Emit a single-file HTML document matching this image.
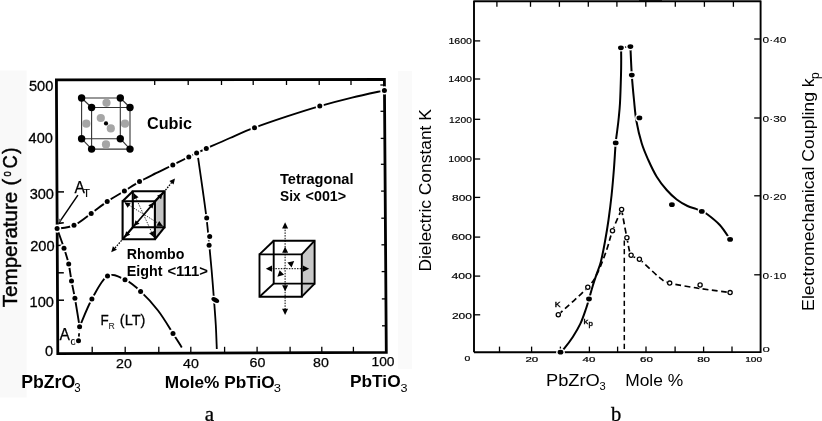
<!DOCTYPE html>
<html><head><meta charset="utf-8"><title>PZT phase diagram</title>
<style>html,body{margin:0;padding:0;background:#fff;width:822px;height:421px;overflow:hidden}svg{display:block}</style>
</head><body>
<svg width="822" height="421" viewBox="0 0 822 421">
<rect width="822" height="421" fill="#fff"/>
<rect x="0" y="70.5" width="26.6" height="327" fill="#f9f9f9"/>
<rect x="398" y="71" width="14" height="298" fill="#fafafa"/>
<polygon points="56.4,79.8 384.4,79.4 386.3,352.4 57.8,353.6" fill="none" stroke="#000" stroke-width="2.8" stroke-linejoin="miter"/>
<line x1="154.7" y1="80.5" x2="154.7" y2="85" stroke="#000" stroke-width="1.3" stroke-linecap="butt"/>
<line x1="188.2" y1="80.5" x2="188.2" y2="85" stroke="#000" stroke-width="1.3" stroke-linecap="butt"/>
<line x1="221.5" y1="80.5" x2="221.5" y2="85" stroke="#000" stroke-width="1.3" stroke-linecap="butt"/>
<line x1="253.2" y1="80.5" x2="253.2" y2="85" stroke="#000" stroke-width="1.3" stroke-linecap="butt"/>
<line x1="286.5" y1="80.5" x2="286.5" y2="85" stroke="#000" stroke-width="1.3" stroke-linecap="butt"/>
<line x1="319.2" y1="80.5" x2="319.2" y2="85" stroke="#000" stroke-width="1.3" stroke-linecap="butt"/>
<line x1="351" y1="80.5" x2="351" y2="85" stroke="#000" stroke-width="1.3" stroke-linecap="butt"/>
<line x1="92.2" y1="352.5" x2="92.2" y2="346.8" stroke="#000" stroke-width="1.3" stroke-linecap="butt"/>
<line x1="125.2" y1="352.5" x2="125.2" y2="346.8" stroke="#000" stroke-width="1.3" stroke-linecap="butt"/>
<line x1="158.8" y1="352.5" x2="158.8" y2="346.8" stroke="#000" stroke-width="1.3" stroke-linecap="butt"/>
<line x1="190.8" y1="352.5" x2="190.8" y2="346.8" stroke="#000" stroke-width="1.3" stroke-linecap="butt"/>
<line x1="224.6" y1="352.5" x2="224.6" y2="346.8" stroke="#000" stroke-width="1.3" stroke-linecap="butt"/>
<line x1="257.1" y1="352.5" x2="257.1" y2="346.8" stroke="#000" stroke-width="1.3" stroke-linecap="butt"/>
<line x1="290.1" y1="352.5" x2="290.1" y2="346.8" stroke="#000" stroke-width="1.3" stroke-linecap="butt"/>
<line x1="321.8" y1="352.5" x2="321.8" y2="346.8" stroke="#000" stroke-width="1.3" stroke-linecap="butt"/>
<line x1="353.4" y1="352.5" x2="353.4" y2="346.8" stroke="#000" stroke-width="1.3" stroke-linecap="butt"/>
<line x1="57.5" y1="300.2" x2="64" y2="300.2" stroke="#000" stroke-width="1.5" stroke-linecap="butt"/>
<line x1="57.5" y1="272.8" x2="63.8" y2="272.8" stroke="#000" stroke-width="1.5" stroke-linecap="butt"/>
<line x1="57.5" y1="245.4" x2="62.5" y2="245.4" stroke="#000" stroke-width="1.5" stroke-linecap="butt"/>
<line x1="57.5" y1="191.9" x2="64" y2="191.9" stroke="#000" stroke-width="1.5" stroke-linecap="butt"/>
<line x1="385.03" y1="85" x2="380.33" y2="85" stroke="#000" stroke-width="1.3" stroke-linecap="butt"/>
<line x1="385.22" y1="111.3" x2="380.52" y2="111.3" stroke="#000" stroke-width="1.3" stroke-linecap="butt"/>
<line x1="385.41" y1="138.4" x2="380.71" y2="138.4" stroke="#000" stroke-width="1.3" stroke-linecap="butt"/>
<line x1="385.59" y1="164.3" x2="380.89" y2="164.3" stroke="#000" stroke-width="1.3" stroke-linecap="butt"/>
<line x1="385.78" y1="191.1" x2="381.08" y2="191.1" stroke="#000" stroke-width="1.3" stroke-linecap="butt"/>
<line x1="385.97" y1="218.2" x2="381.27" y2="218.2" stroke="#000" stroke-width="1.3" stroke-linecap="butt"/>
<line x1="386.15" y1="244.8" x2="381.45" y2="244.8" stroke="#000" stroke-width="1.3" stroke-linecap="butt"/>
<line x1="386.34" y1="271.6" x2="381.64" y2="271.6" stroke="#000" stroke-width="1.3" stroke-linecap="butt"/>
<line x1="386.53" y1="298.9" x2="381.83" y2="298.9" stroke="#000" stroke-width="1.3" stroke-linecap="butt"/>
<line x1="386.72" y1="325.8" x2="382.02" y2="325.8" stroke="#000" stroke-width="1.3" stroke-linecap="butt"/>
<text x="53.3" y="90.9" font-family="Liberation Sans, sans-serif" font-size="14.6" font-weight="normal" text-anchor="end" fill="#000" stroke="#000" stroke-width="0.3" >500</text>
<text x="52.9" y="142.8" font-family="Liberation Sans, sans-serif" font-size="14.6" font-weight="normal" text-anchor="end" fill="#000" stroke="#000" stroke-width="0.3" >400</text>
<text x="54" y="199" font-family="Liberation Sans, sans-serif" font-size="14.6" font-weight="normal" text-anchor="end" fill="#000" stroke="#000" stroke-width="0.3" >300</text>
<text x="54.6" y="251.2" font-family="Liberation Sans, sans-serif" font-size="14.6" font-weight="normal" text-anchor="end" fill="#000" stroke="#000" stroke-width="0.3" >200</text>
<text x="53.9" y="307.1" font-family="Liberation Sans, sans-serif" font-size="14.6" font-weight="normal" text-anchor="end" fill="#000" stroke="#000" stroke-width="0.3" >100</text>
<text x="53" y="356.4" font-family="Liberation Sans, sans-serif" font-size="14.6" font-weight="normal" text-anchor="end" fill="#000" stroke="#000" stroke-width="0.3" >0</text>
<text x="116.1" y="368.3" font-family="Liberation Sans, sans-serif" font-size="13" font-weight="normal" text-anchor="start" fill="#000" textLength="15.8" lengthAdjust="spacingAndGlyphs" stroke="#000" stroke-width="0.25" >20</text>
<text x="183.1" y="367.9" font-family="Liberation Sans, sans-serif" font-size="13" font-weight="normal" text-anchor="start" fill="#000" textLength="15.8" lengthAdjust="spacingAndGlyphs" stroke="#000" stroke-width="0.25" >40</text>
<text x="249.5" y="367.1" font-family="Liberation Sans, sans-serif" font-size="13" font-weight="normal" text-anchor="start" fill="#000" textLength="15.8" lengthAdjust="spacingAndGlyphs" stroke="#000" stroke-width="0.25" >60</text>
<text x="313.1" y="366.9" font-family="Liberation Sans, sans-serif" font-size="13" font-weight="normal" text-anchor="start" fill="#000" textLength="15.8" lengthAdjust="spacingAndGlyphs" stroke="#000" stroke-width="0.25" >80</text>
<text x="371.5" y="366.3" font-family="Liberation Sans, sans-serif" font-size="13" font-weight="normal" text-anchor="start" fill="#000" textLength="23" lengthAdjust="spacingAndGlyphs" stroke="#000" stroke-width="0.25" >100</text>
<g transform="translate(17.4,307.2) rotate(-90)" font-family="Liberation Sans, sans-serif" font-size="21" stroke="#000" stroke-width="0.45"><text x="0" y="0" textLength="115.5" lengthAdjust="spacingAndGlyphs">Temperature</text><text x="121.6" y="0" textLength="6.6" lengthAdjust="spacingAndGlyphs">(</text><text x="130.6" y="-6.1" font-size="13.5" textLength="5.2" lengthAdjust="spacingAndGlyphs">o</text><text x="138.6" y="0" textLength="13.2" lengthAdjust="spacingAndGlyphs">C</text><text x="153.1" y="0" textLength="6.6" lengthAdjust="spacingAndGlyphs">)</text></g>
<text x="21.2" y="388" font-family="Liberation Sans, sans-serif" font-size="17.6" font-weight="bold" text-anchor="start" fill="#000" textLength="54" lengthAdjust="spacingAndGlyphs" >PbZrO</text>
<text x="74.2" y="391.9" font-family="Liberation Sans, sans-serif" font-size="12" font-weight="normal" text-anchor="start" fill="#000" textLength="6.4" lengthAdjust="spacingAndGlyphs" >3</text>
<text x="164.8" y="387.6" font-family="Liberation Sans, sans-serif" font-size="16.2" font-weight="bold" text-anchor="start" fill="#000" textLength="109.8" lengthAdjust="spacingAndGlyphs" >Mole% PbTiO</text>
<text x="273.8" y="391.8" font-family="Liberation Sans, sans-serif" font-size="11.5" font-weight="normal" text-anchor="start" fill="#000" textLength="7.2" lengthAdjust="spacingAndGlyphs" >3</text>
<text x="350" y="387.1" font-family="Liberation Sans, sans-serif" font-size="16.2" font-weight="bold" text-anchor="start" fill="#000" textLength="50.6" lengthAdjust="spacingAndGlyphs" >PbTiO</text>
<text x="400.5" y="391.9" font-family="Liberation Sans, sans-serif" font-size="11.5" font-weight="normal" text-anchor="start" fill="#000" textLength="7" lengthAdjust="spacingAndGlyphs" >3</text>
<text x="209.5" y="420.6" font-family="Liberation Serif, sans-serif" font-size="21" font-weight="normal" text-anchor="middle" fill="#000" stroke="#000" stroke-width="0.3" >a</text>
<text x="147" y="129.2" font-family="Liberation Sans, sans-serif" font-size="16" font-weight="bold" text-anchor="start" fill="#000" textLength="45" lengthAdjust="spacingAndGlyphs" >Cubic</text>
<text x="280" y="183.5" font-family="Liberation Sans, sans-serif" font-size="14.4" font-weight="bold" text-anchor="start" fill="#000" textLength="73.5" lengthAdjust="spacingAndGlyphs" >Tetragonal</text>
<text x="280" y="200.8" font-family="Liberation Sans, sans-serif" font-size="14.4" font-weight="bold" text-anchor="start" fill="#000" textLength="20.6" lengthAdjust="spacingAndGlyphs" >Six</text>
<text x="305.6" y="200.8" font-family="Liberation Sans, sans-serif" font-size="14.4" font-weight="bold" text-anchor="start" fill="#000" textLength="40.6" lengthAdjust="spacingAndGlyphs" >&lt;001&gt;</text>
<text x="126.8" y="259.2" font-family="Liberation Sans, sans-serif" font-size="14.2" font-weight="bold" text-anchor="start" fill="#000" textLength="57.6" lengthAdjust="spacingAndGlyphs" >Rhombo</text>
<text x="126.8" y="276" font-family="Liberation Sans, sans-serif" font-size="14.2" font-weight="bold" text-anchor="start" fill="#000" textLength="35.8" lengthAdjust="spacingAndGlyphs" >Eight</text>
<text x="167.4" y="276" font-family="Liberation Sans, sans-serif" font-size="14.2" font-weight="bold" text-anchor="start" fill="#000" textLength="40.6" lengthAdjust="spacingAndGlyphs" >&lt;111&gt;</text>
<text x="74.4" y="192.5" font-family="Liberation Sans, sans-serif" font-size="15.6" font-weight="normal" text-anchor="start" fill="#000" stroke="#000" stroke-width="0.25" >A</text>
<text x="83.2" y="196.7" font-family="Liberation Sans, sans-serif" font-size="10.8" font-weight="normal" text-anchor="start" fill="#000" stroke="#000" stroke-width="0.2" >T</text>
<text x="59.4" y="340.2" font-family="Liberation Sans, sans-serif" font-size="15.6" font-weight="normal" text-anchor="start" fill="#000" stroke="#000" stroke-width="0.25" >A</text>
<text x="70.4" y="344.7" font-family="Liberation Sans, sans-serif" font-size="10.4" font-weight="normal" text-anchor="start" fill="#000" stroke="#000" stroke-width="0.2" >o</text>
<text x="100.4" y="325.2" font-family="Liberation Sans, sans-serif" font-size="15.4" font-weight="normal" text-anchor="start" fill="#000" textLength="8.2" lengthAdjust="spacingAndGlyphs" stroke="#000" stroke-width="0.3" >F</text>
<text x="108.6" y="329" font-family="Liberation Sans, sans-serif" font-size="8.6" font-weight="normal" text-anchor="start" fill="#333" stroke="#333" stroke-width="0.15" >R</text>
<text x="119.8" y="325.2" font-family="Liberation Sans, sans-serif" font-size="15.4" font-weight="normal" text-anchor="start" fill="#000" textLength="25.6" lengthAdjust="spacingAndGlyphs" stroke="#000" stroke-width="0.3" >(LT)</text>
<line x1="77.9" y1="195.2" x2="58.6" y2="223.4" stroke="#000" stroke-width="1.5" stroke-linecap="butt"/>
<polygon points="58.2,224 57.8,218.2 61.4,219.6" fill="#6a6a6a"/>
<line x1="58.3" y1="223.4" x2="63.8" y2="222.8" stroke="#000" stroke-width="1.6" stroke-linecap="butt"/>
<path d="M57.1,228.6 C59.92,228.05 68.32,227.83 74,225.3 C79.68,222.77 85.67,217.35 91.2,213.4 C96.73,209.45 101.67,205.33 107.2,201.6 C112.73,197.87 119.02,194.33 124.4,191 C129.78,187.67 134.23,184.57 139.5,181.6 C144.77,178.63 150.45,175.97 156,173.2 C161.55,170.43 167.33,167.7 172.8,165 C178.27,162.3 184.83,159 188.8,157 C192.77,155 193.68,154.42 196.6,153 C199.52,151.58 204.68,149.25 206.3,148.5" fill="none" stroke="#000" stroke-width="1.9" stroke-linecap="butt" stroke-linejoin="round" />
<path d="M206.3,148.5 C210.25,146.75 221.97,141.47 230,138 C238.03,134.53 245,131.3 254.5,127.7 C264,124.1 276.12,120 287,116.4 C297.88,112.8 308.97,109.23 319.8,106.1 C330.63,102.97 341.23,100.22 352,97.6 C362.77,94.98 379,91.6 384.4,90.4" fill="none" stroke="#000" stroke-width="1.9" stroke-linecap="butt" stroke-linejoin="round" />
<path d="M57.1,228.6 C58.25,231.87 62.07,242.3 64,248.2 C65.93,254.1 67.45,258.53 68.7,264 C69.95,269.47 70.47,275.3 71.5,281 C72.53,286.7 73.55,290.57 74.9,298.2 C76.25,305.83 78.82,322.03 79.6,326.8" fill="none" stroke="#000" stroke-width="1.9" stroke-linecap="butt" stroke-linejoin="round" />
<path d="M79.6,326.8 L78.5,341.5" fill="none" stroke="#000" stroke-width="1.8" stroke-dasharray="4 2.5" stroke-linecap="butt" stroke-linejoin="round" />
<path d="M79.6,326.8 C81.65,322.17 87.25,307.47 91.9,299 C96.55,290.53 101.98,279.22 107.5,276 C113.02,272.78 119.48,277.13 125,279.7 C130.52,282.27 135.1,286.27 140.6,291.4 C146.1,296.53 152.6,303.5 158,310.5 C163.4,317.5 169.03,327.23 173,333.4 C176.97,339.57 180.33,345.15 181.8,347.5" fill="none" stroke="#000" stroke-width="1.9" stroke-linecap="butt" stroke-linejoin="round" />
<path d="M198.1,157.9 C198.92,163.58 201.6,181.98 203,192 C204.4,202.02 205.5,209.67 206.5,218 C207.5,226.33 208.15,233.33 209,242 C209.85,250.67 210.77,260.33 211.6,270 C212.43,279.67 213.3,290.83 214,300 C214.7,309.17 215.33,316.83 215.8,325 C216.27,333.17 216.63,345 216.8,349" fill="none" stroke="#000" stroke-width="1.8" stroke-linecap="butt" stroke-linejoin="round" />
<ellipse cx="57.1" cy="228.6" rx="4.1" ry="4.1" fill="#fff"/>
<ellipse cx="57.1" cy="228.6" rx="2.5" ry="2.5" fill="#000"/>
<ellipse cx="74" cy="225.3" rx="4.1" ry="4.1" fill="#fff"/>
<ellipse cx="74" cy="225.3" rx="2.5" ry="2.5" fill="#000"/>
<ellipse cx="91.2" cy="213.4" rx="4.1" ry="4.1" fill="#fff"/>
<ellipse cx="91.2" cy="213.4" rx="2.5" ry="2.5" fill="#000"/>
<ellipse cx="107.2" cy="201.6" rx="4.1" ry="4.1" fill="#fff"/>
<ellipse cx="107.2" cy="201.6" rx="2.5" ry="2.5" fill="#000"/>
<ellipse cx="124.4" cy="191" rx="4.1" ry="4.1" fill="#fff"/>
<ellipse cx="124.4" cy="191" rx="2.5" ry="2.5" fill="#000"/>
<ellipse cx="139.5" cy="181.6" rx="4.1" ry="4.1" fill="#fff"/>
<ellipse cx="139.5" cy="181.6" rx="2.5" ry="2.5" fill="#000"/>
<ellipse cx="172.8" cy="165" rx="4.1" ry="4.1" fill="#fff"/>
<ellipse cx="172.8" cy="165" rx="2.5" ry="2.5" fill="#000"/>
<ellipse cx="188.8" cy="157" rx="4.1" ry="4.1" fill="#fff"/>
<ellipse cx="188.8" cy="157" rx="2.5" ry="2.5" fill="#000"/>
<ellipse cx="196.6" cy="153" rx="4.1" ry="4.1" fill="#fff"/>
<ellipse cx="196.6" cy="153" rx="2.5" ry="2.5" fill="#000"/>
<ellipse cx="206.3" cy="148.5" rx="4.1" ry="4.1" fill="#fff"/>
<ellipse cx="206.3" cy="148.5" rx="2.5" ry="2.5" fill="#000"/>
<ellipse cx="254.5" cy="127.7" rx="4.1" ry="4.1" fill="#fff"/>
<ellipse cx="254.5" cy="127.7" rx="2.5" ry="2.5" fill="#000"/>
<ellipse cx="319.8" cy="106.1" rx="4.1" ry="4.1" fill="#fff"/>
<ellipse cx="319.8" cy="106.1" rx="2.5" ry="2.5" fill="#000"/>
<ellipse cx="384.4" cy="90.4" rx="4.1" ry="4.1" fill="#fff"/>
<ellipse cx="384.4" cy="90.4" rx="2.5" ry="2.5" fill="#000"/>
<ellipse cx="64" cy="248.2" rx="4.1" ry="4.1" fill="#fff"/>
<ellipse cx="64" cy="248.2" rx="2.5" ry="2.5" fill="#000"/>
<ellipse cx="68.7" cy="264" rx="4.1" ry="4.1" fill="#fff"/>
<ellipse cx="68.7" cy="264" rx="2.5" ry="2.5" fill="#000"/>
<ellipse cx="71.5" cy="281" rx="4.1" ry="4.1" fill="#fff"/>
<ellipse cx="71.5" cy="281" rx="2.5" ry="2.5" fill="#000"/>
<ellipse cx="74.9" cy="298.2" rx="4.1" ry="4.1" fill="#fff"/>
<ellipse cx="74.9" cy="298.2" rx="2.5" ry="2.5" fill="#000"/>
<ellipse cx="79.6" cy="326.8" rx="4.1" ry="4.1" fill="#fff"/>
<ellipse cx="79.6" cy="326.8" rx="2.5" ry="2.5" fill="#000"/>
<ellipse cx="78.5" cy="340.7" rx="4.1" ry="4.1" fill="#fff"/>
<ellipse cx="78.5" cy="340.7" rx="2.5" ry="2.5" fill="#000"/>
<ellipse cx="91.9" cy="299" rx="4.1" ry="4.1" fill="#fff"/>
<ellipse cx="91.9" cy="299" rx="2.5" ry="2.5" fill="#000"/>
<ellipse cx="107.5" cy="276" rx="4.1" ry="4.1" fill="#fff"/>
<ellipse cx="107.5" cy="276" rx="2.5" ry="2.5" fill="#000"/>
<ellipse cx="125" cy="279.7" rx="4.1" ry="4.1" fill="#fff"/>
<ellipse cx="125" cy="279.7" rx="2.5" ry="2.5" fill="#000"/>
<ellipse cx="140.6" cy="291.4" rx="4.1" ry="4.1" fill="#fff"/>
<ellipse cx="140.6" cy="291.4" rx="2.5" ry="2.5" fill="#000"/>
<ellipse cx="173" cy="333.4" rx="4.1" ry="4.1" fill="#fff"/>
<ellipse cx="173" cy="333.4" rx="2.5" ry="2.5" fill="#000"/>
<ellipse cx="206.7" cy="218.1" rx="4.1" ry="4.1" fill="#fff"/>
<ellipse cx="206.7" cy="218.1" rx="2.5" ry="2.5" fill="#000"/>
<ellipse cx="209.7" cy="236.4" rx="4.1" ry="4.1" fill="#fff"/>
<ellipse cx="209.7" cy="236.4" rx="2.5" ry="2.5" fill="#000"/>
<ellipse cx="209.1" cy="245.3" rx="4.1" ry="4.1" fill="#fff"/>
<ellipse cx="209.1" cy="245.3" rx="2.5" ry="2.5" fill="#000"/>
<ellipse cx="215.3" cy="300.0" rx="5.6" ry="3.8" transform="rotate(28 215.3 300)" fill="#fff"/>
<ellipse cx="215.3" cy="300.0" rx="4.2" ry="2.4" transform="rotate(28 215.3 300)" fill="#000"/>
<polygon points="81.6,98 120.3,98 120.3,138.7 81.6,138.7" fill="none" stroke="#333" stroke-width="1.1"/>
<polygon points="91.6,107.5 130,107.5 130,149.1 91.6,149.1" fill="none" stroke="#333" stroke-width="1.1"/>
<line x1="81.6" y1="98" x2="91.6" y2="107.5" stroke="#333" stroke-width="1.1" stroke-linecap="butt"/>
<line x1="120.3" y1="98" x2="130" y2="107.5" stroke="#333" stroke-width="1.1" stroke-linecap="butt"/>
<line x1="81.6" y1="138.7" x2="91.6" y2="149.1" stroke="#333" stroke-width="1.1" stroke-linecap="butt"/>
<line x1="120.3" y1="138.7" x2="130" y2="149.1" stroke="#333" stroke-width="1.1" stroke-linecap="butt"/>
<circle cx="106.5" cy="102.8" r="4.1" fill="#a6a6a6"/>
<circle cx="86.3" cy="123.7" r="4.1" fill="#a6a6a6"/>
<circle cx="125" cy="123.7" r="4.1" fill="#a6a6a6"/>
<circle cx="106" cy="144.4" r="4.1" fill="#a6a6a6"/>
<circle cx="100.8" cy="118" r="4.1" fill="#a6a6a6"/>
<circle cx="110.8" cy="128.4" r="4.1" fill="#a6a6a6"/>
<circle cx="106" cy="123.4" r="2.1" fill="#000"/>
<circle cx="81.6" cy="98" r="3.7" fill="#000"/>
<circle cx="120.3" cy="98" r="3.7" fill="#000"/>
<circle cx="81.6" cy="138.7" r="3.7" fill="#000"/>
<circle cx="120.3" cy="138.7" r="3.7" fill="#000"/>
<circle cx="91.6" cy="107.5" r="3.7" fill="#000"/>
<circle cx="130" cy="107.5" r="3.7" fill="#000"/>
<circle cx="91.6" cy="149.1" r="3.7" fill="#000"/>
<circle cx="130" cy="149.1" r="3.7" fill="#000"/>
<polygon points="154.9,201.2 164.6,191.2 164.6,227.2 154.9,239.3" fill="#c4c4c4"/>
<line x1="122.6" y1="201.2" x2="164.6" y2="227.2" stroke="#222" stroke-width="0.9" stroke-linecap="butt" stroke-dasharray="1.4 1.2"/>
<line x1="132.8" y1="191.2" x2="154.9" y2="239.3" stroke="#222" stroke-width="0.9" stroke-linecap="butt" stroke-dasharray="1.4 1.2"/>
<line x1="154.9" y1="201.2" x2="132.8" y2="227.2" stroke="#000" stroke-width="1.1" stroke-linecap="butt"/>
<line x1="164.6" y1="191.2" x2="122.6" y2="239.3" stroke="#000" stroke-width="1.1" stroke-linecap="butt"/>
<polygon points="132.8,191.2 164.6,191.2 164.6,227.2 132.8,227.2" fill="none" stroke="#000" stroke-width="2.1" stroke-linejoin="miter"/>
<polygon points="122.6,201.2 154.9,201.2 154.9,239.3 122.6,239.3" fill="none" stroke="#000" stroke-width="2.1" stroke-linejoin="miter"/>
<line x1="132.8" y1="191.2" x2="122.6" y2="201.2" stroke="#000" stroke-width="2.1" stroke-linecap="butt"/>
<line x1="164.6" y1="191.2" x2="154.9" y2="201.2" stroke="#000" stroke-width="2.1" stroke-linecap="butt"/>
<line x1="132.8" y1="227.2" x2="122.6" y2="239.3" stroke="#000" stroke-width="2.1" stroke-linecap="butt"/>
<line x1="164.6" y1="227.2" x2="154.9" y2="239.3" stroke="#000" stroke-width="2.1" stroke-linecap="butt"/>
<polygon points="133.78,193.36 138.56,197.34 133.64,199.58" fill="#000"/>
<polygon points="124.5,202.46 130.66,203.31 127.67,207.81" fill="#000"/>
<polygon points="162.72,193.36 161.08,199.36 157.01,195.81" fill="#000"/>
<polygon points="153.89,202.46 152.5,208.52 148.29,205.15" fill="#000"/>
<polygon points="133.78,226.12 135.55,220.16 139.54,223.79" fill="#000"/>
<polygon points="124.5,237.13 126.16,231.14 130.22,234.7" fill="#000"/>
<polygon points="162.72,226.12 156.52,225.67 159.21,220.99" fill="#000"/>
<polygon points="153.89,237.13 149.08,233.19 153.98,230.91" fill="#000"/>
<line x1="165.5" y1="190.2" x2="172" y2="182" stroke="#000" stroke-width="1.3" stroke-linecap="butt" stroke-dasharray="1.6 1.2"/>
<polygon points="175,178.4 173.59,184.46 169.39,181.07" fill="#000"/>
<line x1="121.6" y1="240.4" x2="114.8" y2="248.2" stroke="#000" stroke-width="1.3" stroke-linecap="butt" stroke-dasharray="1.6 1.2"/>
<polygon points="111.2,252.2 112.88,246.21 116.93,249.78" fill="#000"/>
<polygon points="301.8,254.4 314.6,240.7 314.6,283.6 301.8,296.7" fill="#c8c8c8"/>
<polygon points="273.7,240.7 314.6,240.7 314.6,283.6 273.7,283.6" fill="none" stroke="#000" stroke-width="1.9" stroke-linejoin="miter"/>
<polygon points="259.5,254.4 301.8,254.4 301.8,296.7 259.5,296.7" fill="none" stroke="#000" stroke-width="1.9" stroke-linejoin="miter"/>
<line x1="273.7" y1="240.7" x2="259.5" y2="254.4" stroke="#000" stroke-width="1.9" stroke-linecap="butt"/>
<line x1="314.6" y1="240.7" x2="301.8" y2="254.4" stroke="#000" stroke-width="1.9" stroke-linecap="butt"/>
<line x1="273.7" y1="283.6" x2="259.5" y2="296.7" stroke="#000" stroke-width="1.9" stroke-linecap="butt"/>
<line x1="314.6" y1="283.6" x2="301.8" y2="296.7" stroke="#000" stroke-width="1.9" stroke-linecap="butt"/>
<line x1="285.1" y1="227" x2="285.1" y2="310.5" stroke="#000" stroke-width="1" stroke-linecap="butt" stroke-dasharray="1.5 1.2"/>
<line x1="270" y1="268.7" x2="305" y2="268.7" stroke="#000" stroke-width="1" stroke-linecap="butt" stroke-dasharray="1.5 1.2"/>
<polygon points="285.1,222.2 288.1,228.4 282.1,228.4" fill="#000"/>
<polygon points="285.1,315 282.1,308.8 288.1,308.8" fill="#000"/>
<polygon points="285.1,246.8 288.1,252.8 282.1,252.8" fill="#000"/>
<polygon points="285.1,291.2 282.1,285.2 288.1,285.2" fill="#000"/>
<polygon points="265.8,268.7 272,265.6 272,271.8" fill="#000"/>
<polygon points="309.2,268.7 303,271.8 303,265.6" fill="#000"/>
<polygon points="294.2,261 291.53,267.44 287.4,262.55" fill="#000"/>
<polygon points="277.4,276.8 279.66,270.2 284.09,274.82" fill="#000"/>
<rect x="474" y="0" width="287" height="1" fill="#8a8a8a"/>
<rect x="639" y="0" width="23" height="1.2" fill="#222"/>
<polyline points="474,352.3 474,1.4 760.6,1.4 760.6,352.1 474,352.3" fill="none" stroke="#000" stroke-width="1.9" stroke-linejoin="miter"/>
<line x1="496.9" y1="2" x2="496.9" y2="6.8" stroke="#000" stroke-width="1.3" stroke-linecap="butt"/>
<line x1="530.5" y1="2" x2="530.5" y2="6.8" stroke="#000" stroke-width="1.3" stroke-linecap="butt"/>
<line x1="559.4" y1="2" x2="559.4" y2="6.8" stroke="#000" stroke-width="1.3" stroke-linecap="butt"/>
<line x1="588.3" y1="2" x2="588.3" y2="6.8" stroke="#000" stroke-width="1.3" stroke-linecap="butt"/>
<line x1="616.9" y1="2" x2="616.9" y2="6.8" stroke="#000" stroke-width="1.3" stroke-linecap="butt"/>
<line x1="645.8" y1="2" x2="645.8" y2="6.8" stroke="#000" stroke-width="1.3" stroke-linecap="butt"/>
<line x1="675.3" y1="2" x2="675.3" y2="6.8" stroke="#000" stroke-width="1.3" stroke-linecap="butt"/>
<line x1="704.4" y1="2" x2="704.4" y2="6.8" stroke="#000" stroke-width="1.3" stroke-linecap="butt"/>
<line x1="733.4" y1="2" x2="733.4" y2="6.8" stroke="#000" stroke-width="1.3" stroke-linecap="butt"/>
<line x1="499.5" y1="352" x2="499.5" y2="346.6" stroke="#000" stroke-width="1.3" stroke-linecap="butt"/>
<line x1="531.6" y1="352" x2="531.6" y2="346.6" stroke="#000" stroke-width="1.3" stroke-linecap="butt"/>
<line x1="560.4" y1="352" x2="560.4" y2="346.6" stroke="#000" stroke-width="1.3" stroke-linecap="butt"/>
<line x1="589.4" y1="352" x2="589.4" y2="346.6" stroke="#000" stroke-width="1.3" stroke-linecap="butt"/>
<line x1="617.6" y1="352" x2="617.6" y2="346.6" stroke="#000" stroke-width="1.3" stroke-linecap="butt"/>
<line x1="646" y1="352" x2="646" y2="346.6" stroke="#000" stroke-width="1.3" stroke-linecap="butt"/>
<line x1="675.1" y1="352" x2="675.1" y2="346.6" stroke="#000" stroke-width="1.3" stroke-linecap="butt"/>
<line x1="703.6" y1="352" x2="703.6" y2="346.6" stroke="#000" stroke-width="1.3" stroke-linecap="butt"/>
<line x1="732" y1="352" x2="732" y2="346.6" stroke="#000" stroke-width="1.3" stroke-linecap="butt"/>
<line x1="474" y1="40.9" x2="480.2" y2="40.9" stroke="#000" stroke-width="1.3" stroke-linecap="butt"/>
<line x1="474" y1="79" x2="480.2" y2="79" stroke="#000" stroke-width="1.3" stroke-linecap="butt"/>
<line x1="474" y1="119.3" x2="480.2" y2="119.3" stroke="#000" stroke-width="1.3" stroke-linecap="butt"/>
<line x1="474" y1="159" x2="480.2" y2="159" stroke="#000" stroke-width="1.3" stroke-linecap="butt"/>
<line x1="474" y1="197.4" x2="480.2" y2="197.4" stroke="#000" stroke-width="1.3" stroke-linecap="butt"/>
<line x1="474" y1="237.1" x2="480.2" y2="237.1" stroke="#000" stroke-width="1.3" stroke-linecap="butt"/>
<line x1="474" y1="276.1" x2="480.2" y2="276.1" stroke="#000" stroke-width="1.3" stroke-linecap="butt"/>
<line x1="474" y1="314.8" x2="480.2" y2="314.8" stroke="#000" stroke-width="1.3" stroke-linecap="butt"/>
<line x1="760.6" y1="39" x2="754.2" y2="39" stroke="#000" stroke-width="1.3" stroke-linecap="butt"/>
<line x1="760.6" y1="118" x2="754.2" y2="118" stroke="#000" stroke-width="1.3" stroke-linecap="butt"/>
<line x1="760.6" y1="195.8" x2="754.2" y2="195.8" stroke="#000" stroke-width="1.3" stroke-linecap="butt"/>
<line x1="760.6" y1="274.8" x2="754.2" y2="274.8" stroke="#000" stroke-width="1.3" stroke-linecap="butt"/>
<text x="448.4" y="43.9" font-family="Liberation Sans, sans-serif" font-size="8.4" font-weight="normal" text-anchor="start" fill="#000" textLength="23.6" lengthAdjust="spacingAndGlyphs" stroke="#000" stroke-width="0.15" >1600</text>
<text x="448.2" y="82.3" font-family="Liberation Sans, sans-serif" font-size="8.4" font-weight="normal" text-anchor="start" fill="#000" textLength="23.8" lengthAdjust="spacingAndGlyphs" stroke="#000" stroke-width="0.15" >1400</text>
<text x="449.1" y="122.6" font-family="Liberation Sans, sans-serif" font-size="8.4" font-weight="normal" text-anchor="start" fill="#000" textLength="22.9" lengthAdjust="spacingAndGlyphs" stroke="#000" stroke-width="0.15" >1200</text>
<text x="448.2" y="162.2" font-family="Liberation Sans, sans-serif" font-size="8.4" font-weight="normal" text-anchor="start" fill="#000" textLength="23.8" lengthAdjust="spacingAndGlyphs" stroke="#000" stroke-width="0.15" >1000</text>
<text x="452" y="200.6" font-family="Liberation Sans, sans-serif" font-size="8.4" font-weight="normal" text-anchor="start" fill="#000" textLength="20" lengthAdjust="spacingAndGlyphs" stroke="#000" stroke-width="0.15" >800</text>
<text x="451.4" y="240.3" font-family="Liberation Sans, sans-serif" font-size="8.4" font-weight="normal" text-anchor="start" fill="#000" textLength="20.6" lengthAdjust="spacingAndGlyphs" stroke="#000" stroke-width="0.15" >600</text>
<text x="451.4" y="279.3" font-family="Liberation Sans, sans-serif" font-size="8.4" font-weight="normal" text-anchor="start" fill="#000" textLength="20.6" lengthAdjust="spacingAndGlyphs" stroke="#000" stroke-width="0.15" >400</text>
<text x="451.9" y="318.8" font-family="Liberation Sans, sans-serif" font-size="8.4" font-weight="normal" text-anchor="start" fill="#000" textLength="20.1" lengthAdjust="spacingAndGlyphs" stroke="#000" stroke-width="0.15" >200</text>
<text x="464.5" y="361.4" font-family="Liberation Sans, sans-serif" font-size="6.8" font-weight="normal" text-anchor="start" fill="#000" textLength="5.8" lengthAdjust="spacingAndGlyphs" stroke="#000" stroke-width="0.2" >0</text>
<text x="525.4" y="361.7" font-family="Liberation Sans, sans-serif" font-size="6.8" font-weight="normal" text-anchor="start" fill="#000" textLength="12.8" lengthAdjust="spacingAndGlyphs" stroke="#000" stroke-width="0.2" >20</text>
<text x="582.5" y="361.7" font-family="Liberation Sans, sans-serif" font-size="6.8" font-weight="normal" text-anchor="start" fill="#000" textLength="12.8" lengthAdjust="spacingAndGlyphs" stroke="#000" stroke-width="0.2" >40</text>
<text x="640" y="361.7" font-family="Liberation Sans, sans-serif" font-size="6.8" font-weight="normal" text-anchor="start" fill="#000" textLength="12.8" lengthAdjust="spacingAndGlyphs" stroke="#000" stroke-width="0.2" >60</text>
<text x="697.2" y="361.7" font-family="Liberation Sans, sans-serif" font-size="6.8" font-weight="normal" text-anchor="start" fill="#000" textLength="12.8" lengthAdjust="spacingAndGlyphs" stroke="#000" stroke-width="0.2" >80</text>
<text x="745.2" y="361.7" font-family="Liberation Sans, sans-serif" font-size="6.8" font-weight="normal" text-anchor="start" fill="#000" textLength="16.8" lengthAdjust="spacingAndGlyphs" stroke="#000" stroke-width="0.2" >100</text>
<text x="762.6" y="42.6" font-family="Liberation Sans, sans-serif" font-size="8.8" font-weight="normal" text-anchor="start" fill="#000" textLength="23.8" lengthAdjust="spacingAndGlyphs" stroke="#000" stroke-width="0.1" >0·40</text>
<text x="762.6" y="121.8" font-family="Liberation Sans, sans-serif" font-size="8.8" font-weight="normal" text-anchor="start" fill="#000" textLength="23.8" lengthAdjust="spacingAndGlyphs" stroke="#000" stroke-width="0.1" >0·30</text>
<text x="762.6" y="199.6" font-family="Liberation Sans, sans-serif" font-size="8.8" font-weight="normal" text-anchor="start" fill="#000" textLength="23.8" lengthAdjust="spacingAndGlyphs" stroke="#000" stroke-width="0.1" >0·20</text>
<text x="762.6" y="278.6" font-family="Liberation Sans, sans-serif" font-size="8.8" font-weight="normal" text-anchor="start" fill="#000" textLength="23.8" lengthAdjust="spacingAndGlyphs" stroke="#000" stroke-width="0.1" >0·10</text>
<text x="762.6" y="352" font-family="Liberation Sans, sans-serif" font-size="7.6" font-weight="normal" text-anchor="start" fill="#000" textLength="7.4" lengthAdjust="spacingAndGlyphs" stroke="#000" stroke-width="0.1" >0</text>
<text transform="translate(430.8,271.6) rotate(-90)" font-family="Liberation Sans, sans-serif" font-size="16.6" textLength="162.5" lengthAdjust="spacingAndGlyphs">Dielectric Constant K</text>
<text transform="translate(814.2,310.9) rotate(-90)" font-family="Liberation Sans, sans-serif" font-size="16"><tspan textLength="232.6" lengthAdjust="spacingAndGlyphs">Electromechanical Coupling k</tspan><tspan font-size="12" dy="4.9" dx="-0.6">p</tspan></text>
<text x="546" y="385.9" font-family="Liberation Sans, sans-serif" font-size="16.2" font-weight="normal" text-anchor="start" fill="#000" textLength="53.8" lengthAdjust="spacingAndGlyphs" >PbZrO</text>
<text x="599.6" y="390.2" font-family="Liberation Sans, sans-serif" font-size="11" font-weight="normal" text-anchor="start" fill="#000" textLength="6.2" lengthAdjust="spacingAndGlyphs" >3</text>
<text x="625.2" y="385.8" font-family="Liberation Sans, sans-serif" font-size="16.6" font-weight="normal" text-anchor="start" fill="#000" textLength="58" lengthAdjust="spacingAndGlyphs" >Mole %</text>
<text x="616" y="420.6" font-family="Liberation Serif, sans-serif" font-size="20.5" font-weight="normal" text-anchor="middle" fill="#000" stroke="#000" stroke-width="0.3" >b</text>
<text x="554.8" y="306.8" font-family="Liberation Sans, sans-serif" font-size="6.6" font-weight="normal" text-anchor="start" fill="#000" textLength="5.8" lengthAdjust="spacingAndGlyphs" stroke="#000" stroke-width="0.35" >K</text>
<text x="583.6" y="324" font-family="Liberation Sans, sans-serif" font-size="7.2" font-weight="normal" text-anchor="start" fill="#000" textLength="4.6" lengthAdjust="spacingAndGlyphs" stroke="#000" stroke-width="0.35" >k</text>
<text x="588.4" y="326" font-family="Liberation Sans, sans-serif" font-size="6.4" font-weight="normal" text-anchor="start" fill="#000" textLength="4.4" lengthAdjust="spacingAndGlyphs" stroke="#000" stroke-width="0.35" >p</text>
<line x1="624.3" y1="240.5" x2="624.3" y2="351.5" stroke="#000" stroke-width="1.5" stroke-linecap="butt" stroke-dasharray="5.2 3.4"/>
<path d="M558.3,314.8 C563.22,310.22 581.27,294.27 587.8,287.3 C594.33,280.33 594.37,279.22 597.5,273 C600.63,266.78 604.1,257.05 606.6,250 C609.1,242.95 610,237.45 612.5,230.7 C615,223.95 620.08,213.03 621.6,209.5" fill="none" stroke="#000" stroke-width="1.7" stroke-dasharray="5.8 3.4" stroke-linecap="butt" stroke-linejoin="round" />
<path d="M621.6,209.5 C622.48,214.22 625.32,230.17 626.9,237.8 C628.48,245.43 629.02,251.72 631.1,255.3 C633.18,258.88 634.65,255.58 639.4,259.3 C644.15,263.02 654.55,273.63 659.6,277.6 C664.65,281.57 662.95,281.28 669.7,283.1 C676.45,284.92 690.03,286.92 700.1,288.5 C710.17,290.08 725.1,291.92 730.1,292.6" fill="none" stroke="#000" stroke-width="1.7" stroke-dasharray="5.8 3.4" stroke-linecap="butt" stroke-linejoin="round" />
<path d="M560.5,352.2 C561.13,351.57 562.25,350.93 564.3,348.4 C566.35,345.87 570.12,341.12 572.8,337 C575.48,332.88 578.18,328.45 580.4,323.7 C582.62,318.95 584.67,312.62 586.1,308.5 C587.53,304.38 587.88,302.8 589,299 C590.12,295.2 591.47,290.03 592.8,285.7 C594.13,281.37 595.67,276.95 597,273 C598.33,269.05 599.47,267.25 600.8,262 C602.13,256.75 603.72,248.5 605,241.5 C606.28,234.5 607.4,227.75 608.5,220 C609.6,212.25 610.68,203.67 611.6,195 C612.52,186.33 613.32,176.68 614,168 C614.68,159.32 615.15,149.23 615.7,142.9 C616.25,136.57 616.83,133.82 617.3,130 C617.77,126.18 618.05,124.5 618.5,120 C618.95,115.5 619.58,110.5 620,103 C620.42,95.5 620.8,82.17 621,75 C621.2,67.83 621.18,64.33 621.2,60 C621.22,55.67 621.12,50.83 621.1,49" fill="none" stroke="#000" stroke-width="2" stroke-linecap="butt" stroke-linejoin="round" />
<path d="M630.4,46.6 C630.63,51.35 631.2,66.2 631.8,75.1 C632.4,84 633.23,92.35 634,100 C634.77,107.65 635.12,113.78 636.4,121 C637.68,128.22 639.72,136.8 641.7,143.3 C643.68,149.8 645.8,154.43 648.3,160 C650.8,165.57 653.63,171.7 656.7,176.7 C659.77,181.7 663.37,186.2 666.7,190 C670.03,193.8 673.23,196.83 676.7,199.5 C680.17,202.17 684.28,204.43 687.5,206 C690.72,207.57 693.62,208 696,208.9 C698.38,209.8 700.05,210.6 701.8,211.4 C703.55,212.2 703.5,211.43 706.5,213.7 C709.5,215.97 715.87,220.72 719.8,225 C723.73,229.28 728.38,237 730.1,239.4" fill="none" stroke="#000" stroke-width="2" stroke-linecap="butt" stroke-linejoin="round" />
<line x1="623.8" y1="47.2" x2="627.2" y2="47" stroke="#000" stroke-width="1.4" stroke-linecap="butt"/>
<ellipse cx="560.5" cy="352.2" rx="4.3" ry="3.8" fill="#fff"/>
<ellipse cx="560.5" cy="352.2" rx="2.9" ry="2.4" fill="#000"/>
<ellipse cx="589" cy="299" rx="4.3" ry="3.8" fill="#fff"/>
<ellipse cx="589" cy="299" rx="2.9" ry="2.4" fill="#000"/>
<ellipse cx="615.7" cy="142.9" rx="4.3" ry="3.8" fill="#fff"/>
<ellipse cx="615.7" cy="142.9" rx="2.9" ry="2.4" fill="#000"/>
<ellipse cx="620.9" cy="47.8" rx="4.3" ry="3.8" fill="#fff"/>
<ellipse cx="620.9" cy="47.8" rx="2.9" ry="2.4" fill="#000"/>
<ellipse cx="630.4" cy="46.6" rx="4.3" ry="3.8" fill="#fff"/>
<ellipse cx="630.4" cy="46.6" rx="2.9" ry="2.4" fill="#000"/>
<ellipse cx="631.8" cy="75.1" rx="4.3" ry="3.8" fill="#fff"/>
<ellipse cx="631.8" cy="75.1" rx="2.9" ry="2.4" fill="#000"/>
<ellipse cx="639.4" cy="117.9" rx="4.3" ry="3.8" fill="#fff"/>
<ellipse cx="639.4" cy="117.9" rx="2.9" ry="2.4" fill="#000"/>
<ellipse cx="671.9" cy="204.7" rx="4.3" ry="3.8" fill="#fff"/>
<ellipse cx="671.9" cy="204.7" rx="2.9" ry="2.4" fill="#000"/>
<ellipse cx="701.8" cy="211.4" rx="4.3" ry="3.8" fill="#fff"/>
<ellipse cx="701.8" cy="211.4" rx="2.9" ry="2.4" fill="#000"/>
<ellipse cx="730.1" cy="239.4" rx="4.3" ry="3.8" fill="#fff"/>
<ellipse cx="730.1" cy="239.4" rx="2.9" ry="2.4" fill="#000"/>
<circle cx="558.3" cy="314.8" r="3.1" fill="#fff"/>
<circle cx="558.3" cy="314.8" r="2.1" fill="#fff" stroke="#000" stroke-width="1.3"/>
<circle cx="587.8" cy="287.3" r="3.1" fill="#fff"/>
<circle cx="587.8" cy="287.3" r="2.1" fill="#fff" stroke="#000" stroke-width="1.3"/>
<circle cx="612.5" cy="230.7" r="3.1" fill="#fff"/>
<circle cx="612.5" cy="230.7" r="2.1" fill="#fff" stroke="#000" stroke-width="1.3"/>
<circle cx="621.6" cy="209.5" r="3.1" fill="#fff"/>
<circle cx="621.6" cy="209.5" r="2.1" fill="#fff" stroke="#000" stroke-width="1.3"/>
<circle cx="626.9" cy="237.8" r="3.1" fill="#fff"/>
<circle cx="626.9" cy="237.8" r="2.1" fill="#fff" stroke="#000" stroke-width="1.3"/>
<circle cx="631.1" cy="255.3" r="3.1" fill="#fff"/>
<circle cx="631.1" cy="255.3" r="2.1" fill="#fff" stroke="#000" stroke-width="1.3"/>
<circle cx="639.4" cy="259.3" r="3.1" fill="#fff"/>
<circle cx="639.4" cy="259.3" r="2.1" fill="#fff" stroke="#000" stroke-width="1.3"/>
<circle cx="669.7" cy="283.1" r="3.1" fill="#fff"/>
<circle cx="669.7" cy="283.1" r="2.1" fill="#fff" stroke="#000" stroke-width="1.3"/>
<circle cx="700.1" cy="285" r="3.1" fill="#fff"/>
<circle cx="700.1" cy="285" r="2.1" fill="#fff" stroke="#000" stroke-width="1.3"/>
<circle cx="730.1" cy="292.6" r="3.1" fill="#fff"/>
<circle cx="730.1" cy="292.6" r="2.1" fill="#fff" stroke="#000" stroke-width="1.3"/>
</svg>
</body></html>
